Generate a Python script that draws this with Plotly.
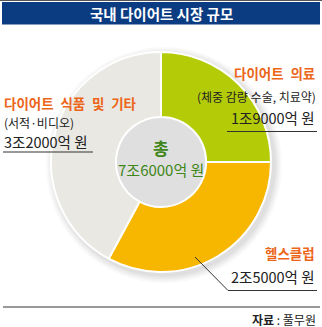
import plotly.graph_objects as go

# Korean diet market size, in 억 원
categories = ["다이어트 의료", "헬스클럽", "다이어트 식품 및 기타"]
values = [19000, 25000, 32000]
sub_notes = ["(체중 감량 수술, 치료약)", "", "(서적·비디오)"]
colors = ["#b4cc08", "#f7b600", "#e9e8e2"]

W, H = 322, 327
FONT = "Noto Sans CJK KR"
ORANGE = "#ec6519"
DARK = "#222222"
GREEN = "#3f861a"


def won(v):
    jo, eok = divmod(v, 10000)
    if jo and eok:
        return f"{jo}조{eok}억 원"
    if jo:
        return f"{jo}조 원"
    return f"{eok}억 원"


def px(x):
    return x / W


def py(y):
    return 1 - y / H


cx, cy, r = 161, 162, 110

fig = go.Figure()
fig.add_trace(go.Pie(
    labels=categories,
    values=values,
    sort=False,
    direction="clockwise",
    rotation=0,
    hole=0.41,
    textinfo="none",
    hoverinfo="label+value",
    marker=dict(colors=colors, line=dict(color="white", width=2)),
    domain=dict(x=[px(cx - r), px(cx + r)], y=[py(cy + r), py(cy - r)]),
    showlegend=False,
))

shapes = []
# soft drop shadow behind the ring
for i, a in enumerate([0.035, 0.035, 0.03, 0.025]):
    g = 2 + i * 2
    shapes.append(dict(type="circle", xref="paper", yref="paper", layer="below",
                       x0=px(cx - r - g + 3), x1=px(cx + r + g + 3),
                       y0=py(cy + r + g + 3), y1=py(cy - r - g + 3),
                       fillcolor=f"rgba(0,0,0,{a})", line=dict(width=0)))
# title bar
shapes.append(dict(type="line", xref="paper", yref="paper", x0=0, x1=1,
                   y0=py(0.5), y1=py(0.5), line=dict(color="#555", width=1)))
shapes.append(dict(type="rect", xref="paper", yref="paper", x0=px(2), x1=px(320),
                   y0=py(24.5), y1=py(2), fillcolor="#0b3c82", line=dict(width=0)))
# label underlines and leader
line_style = dict(color="#333", width=1)
for x0, x1, y in [(3, 93, 152), (227, 317, 131.5), (228, 317, 290.5)]:
    shapes.append(dict(type="line", xref="paper", yref="paper", x0=px(x0), x1=px(x1),
                       y0=py(y), y1=py(y), line=line_style))
shapes.append(dict(type="line", xref="paper", yref="paper", x0=px(195), x1=px(228),
                   y0=py(257), y1=py(290.5), line=line_style))
# footer rule
shapes.append(dict(type="line", xref="paper", yref="paper", x0=px(3), x1=px(320),
                   y0=py(307), y1=py(307), line=dict(color="#777", width=1.5)))

ann = []


def text(x, y, s, size, color=DARK, anchor="left", bold=False):
    if bold:
        s = f"<b>{s}</b>"
    ann.append(dict(x=px(x), y=py(y), xref="paper", yref="paper", text=s,
                    showarrow=False, xanchor=anchor, yanchor="middle",
                    font=dict(family=FONT, size=size, color=color)))


text(161, 13.5, "국내 다이어트 시장 규모", 14.5, "white", "center", bold=True)

gap = "\u2002"
# 다이어트 의료
text(317, 73, categories[0].replace(" ", gap), 13.5, ORANGE, "right", bold=True)
text(318, 97, sub_notes[0], 12, DARK, "right")
text(317, 117, won(values[0]), 14.5, DARK, "right")
# 헬스클럽
text(317, 253, categories[1], 13.5, ORANGE, "right", bold=True)
text(317, 276, won(values[1]), 14.5, DARK, "right")
# 다이어트 식품 및 기타
text(2, 103, categories[2].replace(" ", gap), 13.5, ORANGE, "left", bold=True)
text(2, 122, sub_notes[2], 12, DARK, "left")
text(2, 141.5, won(values[2]), 14.5, DARK, "left")
# total in the centre
text(161, 147, "총", 17, GREEN, "center", bold=True)
text(161, 169, won(sum(values)), 15, GREEN, "center")
# source
text(318, 319, "<b>자료</b> : 풀무원", 12, DARK, "right")

fig.update_layout(
    width=W, height=H,
    margin=dict(l=0, r=0, t=0, b=0),
    paper_bgcolor="white", plot_bgcolor="white",
    shapes=shapes, annotations=ann,
)

fig.write_html("out.html", config={"displayModeBar": False})
